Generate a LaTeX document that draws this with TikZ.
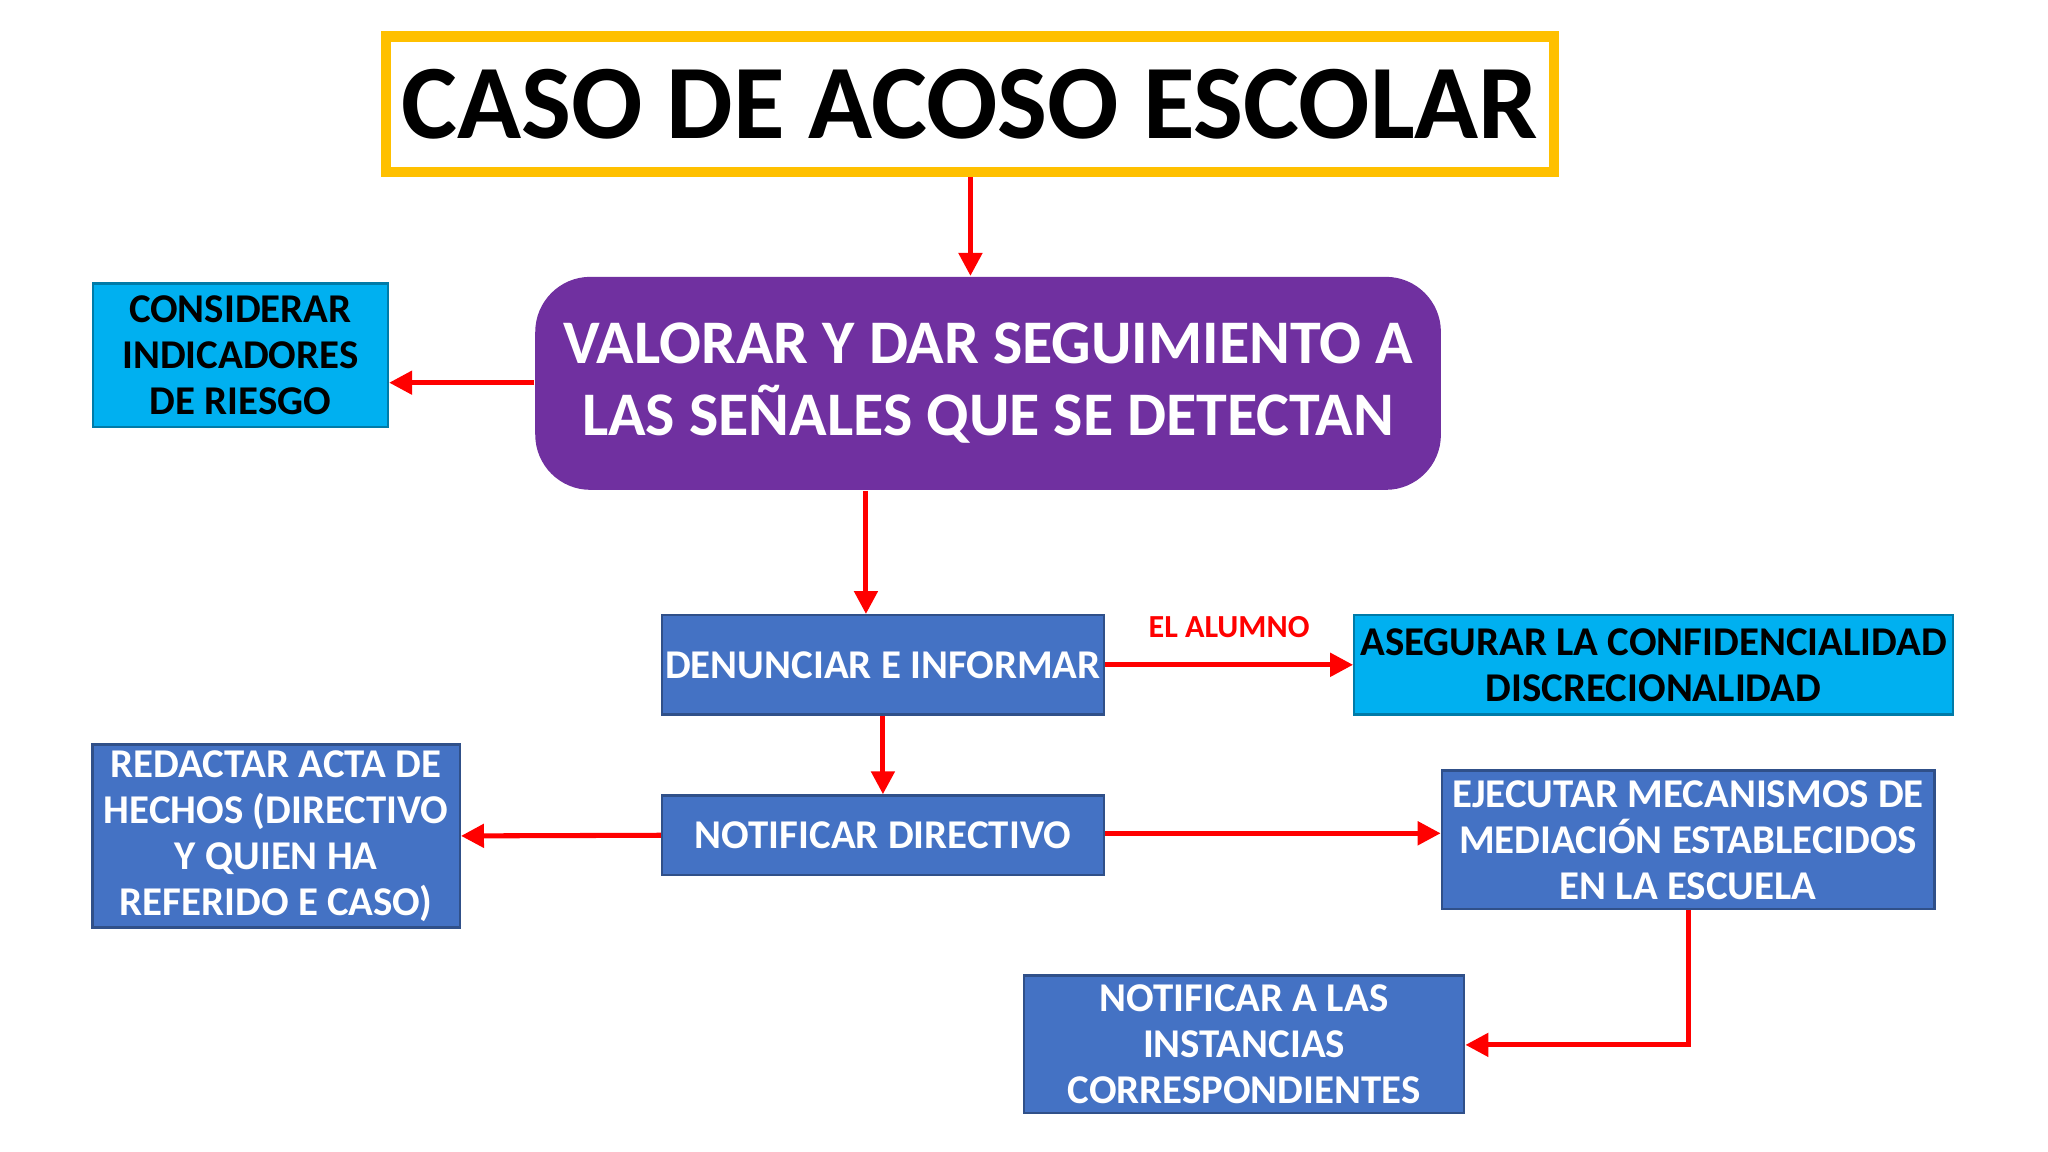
\documentclass[tikz,border=0pt]{standalone}
\usepackage{fontspec}
\setmainfont{Carlito}
\usetikzlibrary{arrows.meta}
\definecolor{purp}{HTML}{7030A0}
\definecolor{cy}{HTML}{00B0F0}
\definecolor{bl}{HTML}{4472C4}
\definecolor{gold}{HTML}{FFC000}
\begin{document}
\begin{tikzpicture}[x=0.01cm,y=-0.01cm,
  box/.style={draw=#1!70!black, line width=0.5pt, fill=#1, font=\bfseries\fontsize{8.9}{10}\selectfont, align=center, inner sep=0pt},
  wbox/.style={box=bl, text=white},
  cbox/.style={box=cy, text=black},
  arr/.style={draw=red, line width=1.1pt, -{Triangle[length=5pt,width=5pt]}}]
\useasboundingbox (0,0) rectangle (1568,882);
\node[draw=gold, line width=2.2pt, fill=white, minimum width=8.55cm, minimum height=1.04cm, font=\bfseries\fontsize{23}{28}\selectfont] (t) at (742.5,80) {CASO DE ACOSO ESCOLAR};
\node[fill=purp, rounded corners=12pt, text=white, minimum width=6.93cm, minimum height=1.63cm, align=center, font=\bfseries\fontsize{13.5}{15.6}\selectfont] (v) at (756.5,293.5) {VALORAR Y DAR SEGUIMIENTO A\\LAS SEÑALES QUE SE DETECTAN};
\node[cbox, minimum width=2.26cm, minimum height=1.10cm] (c) at (184,272) {CONSIDERAR\\INDICADORES\\DE RIESGO};
\node[wbox, minimum width=3.38cm, minimum height=0.76cm] (d) at (676,509) {DENUNCIAR E INFORMAR};
\node[cbox, minimum width=4.58cm, minimum height=0.76cm] (a) at (1266,509) {ASEGURAR LA CONFIDENCIALIDAD\\DISCRECIONALIDAD};
\node[wbox, minimum width=3.38cm, minimum height=0.61cm] (n) at (676,639.5) {NOTIFICAR DIRECTIVO};
\node[wbox, minimum width=2.81cm, minimum height=1.40cm] (r) at (211.5,640) {REDACTAR ACTA DE\\HECHOS (DIRECTIVO\\Y QUIEN HA\\REFERIDO E CASO)};
\node[wbox, minimum width=3.77cm, minimum height=1.06cm] (e) at (1292.5,643) {EJECUTAR MECANISMOS DE\\MEDIACIÓN ESTABLECIDOS\\EN LA ESCUELA};
\node[wbox, minimum width=3.37cm, minimum height=1.05cm] (i) at (952.5,799.5) {NOTIFICAR A LAS\\INSTANCIAS\\CORRESPONDIENTES};
\draw[arr] (t.south -| 743,0) -- (v.north -| 743,0);
\draw[arr] (v.west |- 0,293) -- (c.east |- 0,293);
\draw[arr] (v.south -| 663,0) -- (d.north -| 663,0);
\draw[arr] (d.east) -- node[above=2pt, text=red, font=\bfseries\fontsize{7}{8}\selectfont] {EL ALUMNO} (a.west);
\draw[arr] (d.south) -- (n.north);
\draw[arr] (n.west) -- (r.east);
\draw[arr] (n.east |- 0,638) -- (e.west |- 0,638);
\coordinate (k) at (1293,800);
\draw[arr] (e.south -| k) -- (k) -- (i.east |- k);
\end{tikzpicture}
\end{document}
